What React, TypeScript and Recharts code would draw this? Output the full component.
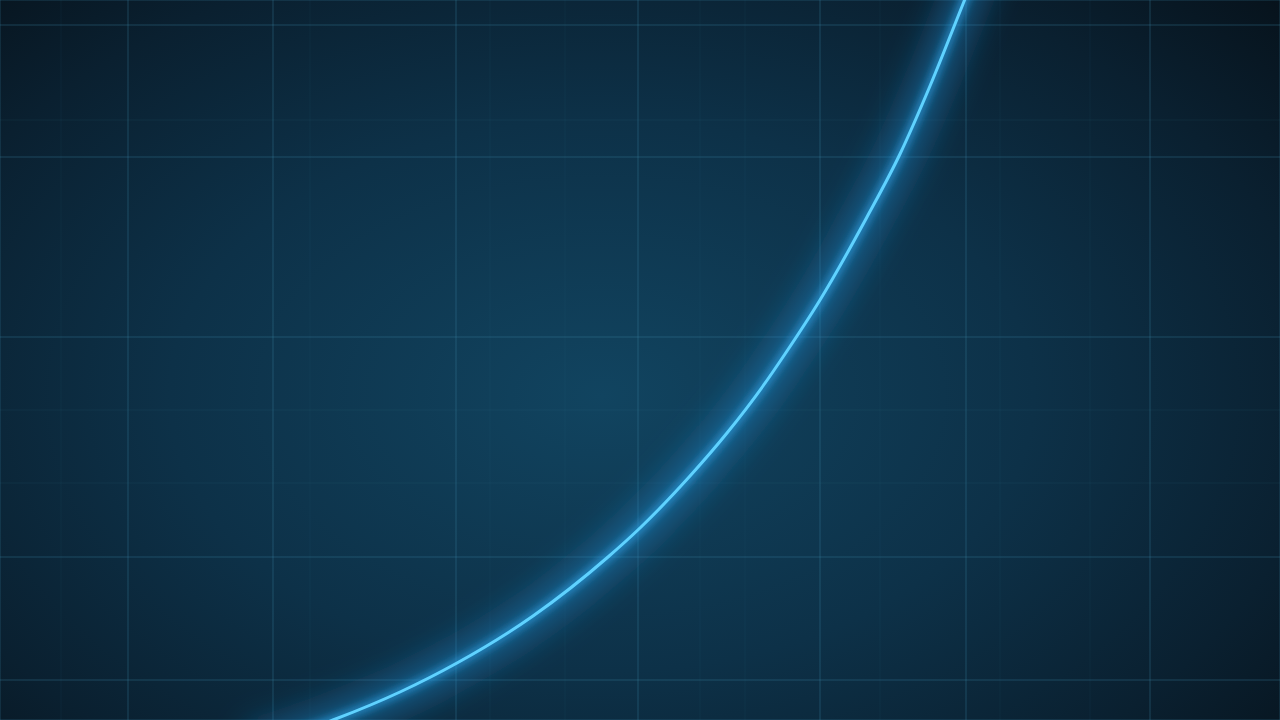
import { CartesianGrid, Line, LineChart, ReferenceLine, XAxis, YAxis } from "recharts";

// curve (x across, level = height above the bottom edge)
const xs = [250, 333, 400, 457, 533, 608, 640, 690, 727, 763, 785, 820, 867, 900, 930, 963, 985];
const levels = [-28, 0, 28, 57, 104, 163, 192, 244, 287, 334, 366, 420, 503, 566, 634, 716, 771];

const majorX = [128, 273, 456, 638, 820, 966, 1150];
const majorY = [40, 163, 383, 563, 695];
const minorX = [61, 310, 490, 565, 700, 745, 880, 1000, 1090];
const minorY = [237, 310, 600];

const data = xs.map((x, i) => ({ x, level: levels[i] }));

const W = 1280;
const H = 720;

export default function App() {
  return (
    <div
      style={{
        position: "fixed",
        left: 0,
        top: 0,
        width: W,
        height: H,
        background:
          "radial-gradient(ellipse 75% 85% at 47% 55%, #114460 0%, #0d3148 45%, #0a2030 75%, #061018 100%)",
      }}
    >
      <LineChart width={W} height={H} data={data} margin={{ top: 0, right: 0, bottom: 0, left: 0 }}>
        <defs>
          <filter id="glowWide" x="-50%" y="-50%" width="200%" height="200%">
            <feGaussianBlur stdDeviation="16" />
          </filter>
          <filter id="glowNear" x="-50%" y="-50%" width="200%" height="200%">
            <feGaussianBlur stdDeviation="4" />
          </filter>
        </defs>
        <XAxis type="number" dataKey="x" domain={[0, W]} ticks={majorX} hide allowDataOverflow />
        <YAxis type="number" domain={[0, H]} ticks={majorY} hide allowDataOverflow />
        <CartesianGrid stroke="#3a88a8" strokeOpacity={0.25} strokeWidth={1.5} />
        {minorX.map((x) => (
          <ReferenceLine key={"mx" + x} x={x} stroke="#3a88a8" strokeOpacity={0.08} />
        ))}
        {minorY.map((y) => (
          <ReferenceLine key={"my" + y} y={y} stroke="#3a88a8" strokeOpacity={0.1} />
        ))}
        <Line
          dataKey="level"
          type="monotone"
          stroke="#1e90d8"
          strokeWidth={36}
          strokeOpacity={0.45}
          filter="url(#glowWide)"
          dot={false}
          isAnimationActive={false}
        />
        <Line
          dataKey="level"
          type="monotone"
          stroke="#2aa8ee"
          strokeWidth={8}
          strokeOpacity={0.7}
          filter="url(#glowNear)"
          dot={false}
          isAnimationActive={false}
        />
        <Line
          dataKey="level"
          type="monotone"
          stroke="#5fd2ff"
          strokeWidth={3}
          dot={false}
          isAnimationActive={false}
        />
      </LineChart>
    </div>
  );
}
